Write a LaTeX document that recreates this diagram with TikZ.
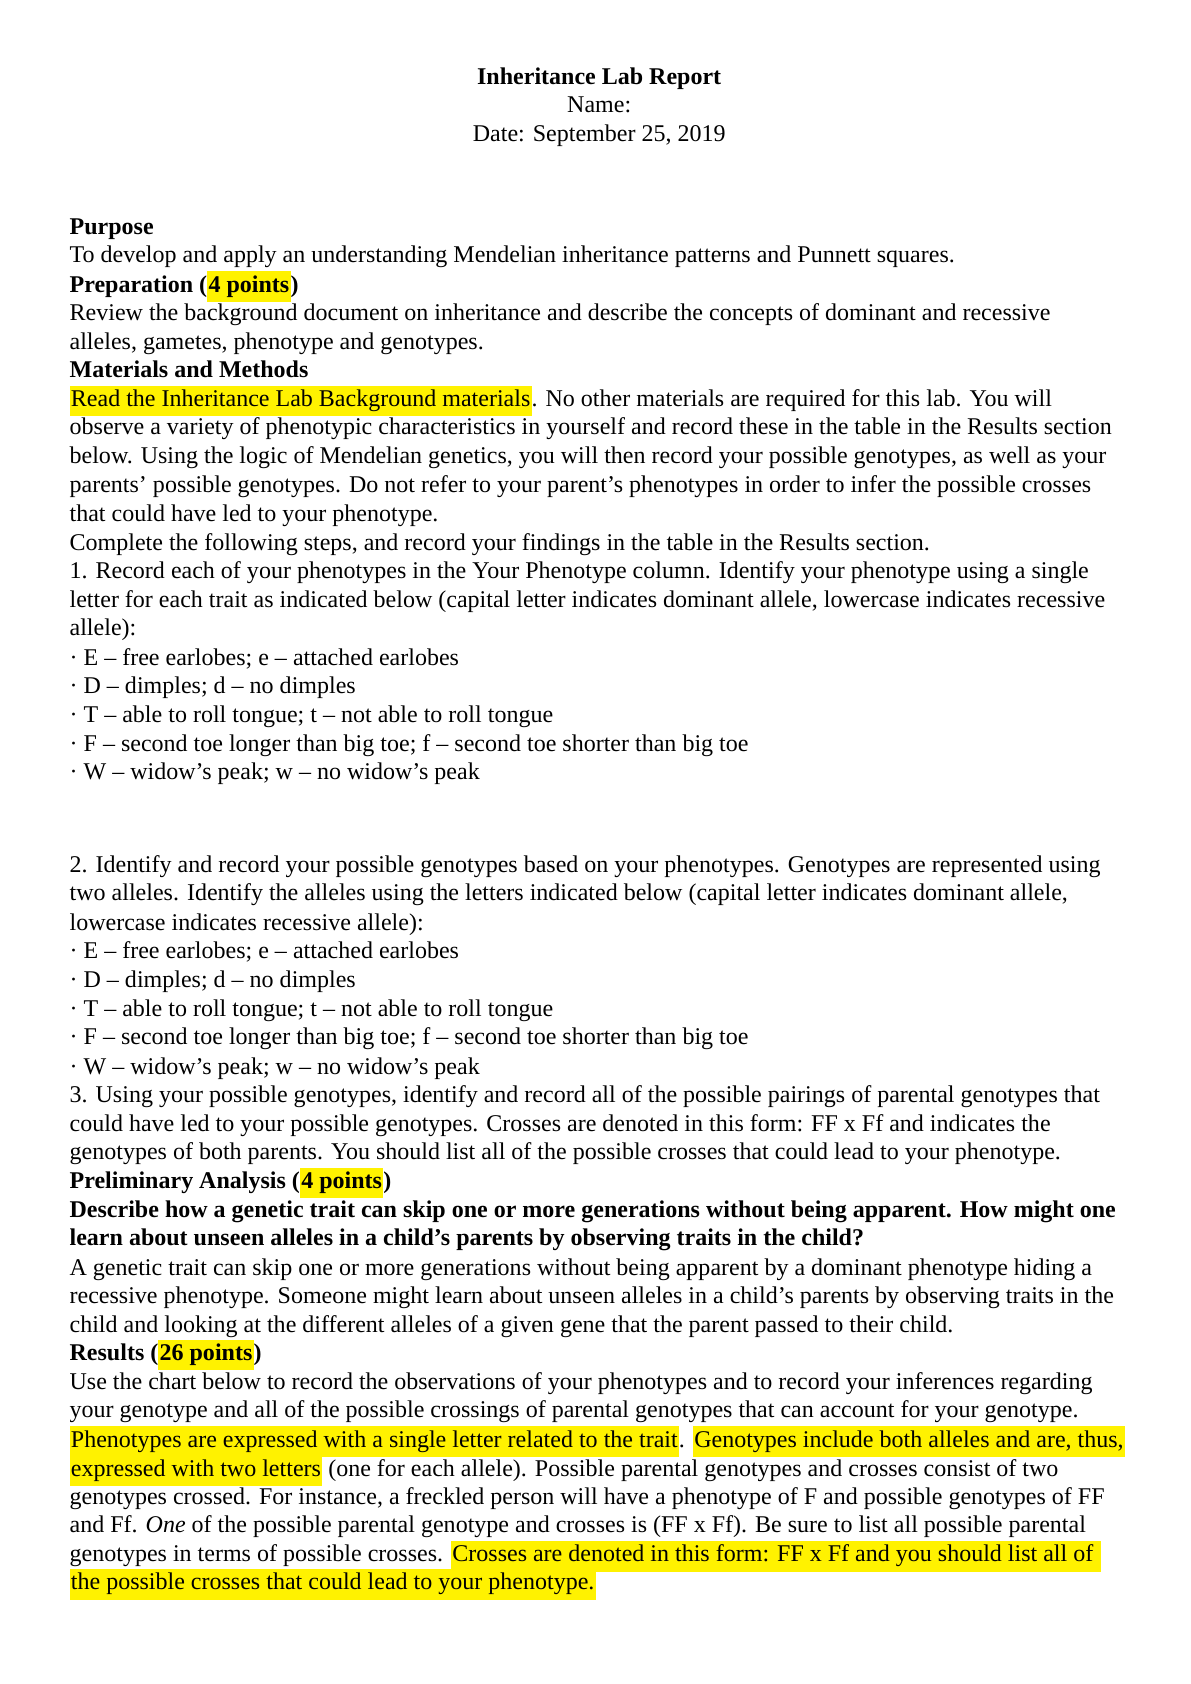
\documentclass[tikz,border=0pt]{standalone}
\usepackage{fontspec}
\setmainfont{Liberation Serif}
\newcommand\hl[1]{{\setlength\fboxsep{0.6pt}\colorbox{yellow}{\strut #1}}}
\tikzset{
  txt/.style={anchor=base west, inner sep=0, font=\fontsize{11.1}{13}\selectfont},
  head/.style={txt, font=\fontsize{11.1}{13}\selectfont\bfseries},
  ttl/.style={anchor=base, inner sep=0, font=\fontsize{11.1}{13}\selectfont}
}
\begin{document}
\begin{tikzpicture}[x=0.5pt,y=-0.5pt]
\useasboundingbox[fill=white] (0,0) rectangle (1101,1557);
% title block
\node[ttl] (title) at (554,78) {\bfseries Inheritance Lab Report};
\node[ttl] (name) at (554,104) {Name:};
\node[ttl] (date) at (554,131) {Date: September 25, 2019};
% purpose and preparation
\node[head] (purp) at (64,217) {Purpose};
\node[txt] (p1) at (64,243) {To develop and apply an understanding Mendelian inheritance patterns and Punnett squares.};
\node[head] (prep) at (64,270) {Preparation (\hl{4 points})};
\node[txt] (r1) at (64,296) {Review the background document on inheritance and describe the concepts of dominant and recessive};
\node[txt] (r2) at (64,323) {alleles, gametes, phenotype and genotypes.};
% materials
\node[head] (mat) at (64,349) {Materials and Methods};
\node[txt] (m1) at (64,376) {\hl{Read the Inheritance Lab Background materials}. No other materials are required for this lab. You will};
\node[txt] (m2) at (64,402) {observe a variety of phenotypic characteristics in yourself and record these in the table in the Results section};
\node[txt] (m3) at (64,429) {below. Using the logic of Mendelian genetics, you will then record your possible genotypes, as well as your};
\node[txt] (m4) at (64,455) {parents’ possible genotypes. Do not refer to your parent’s phenotypes in order to infer the possible crosses};
\node[txt] (m5) at (64,482) {that could have led to your phenotype.};
\node[txt] (m6) at (64,509) {Complete the following steps, and record your findings in the table in the Results section.};
\node[txt] (s1a) at (64,535) {1. Record each of your phenotypes in the Your Phenotype column. Identify your phenotype using a single};
\node[txt] (s1b) at (64,562) {letter for each trait as indicated below (capital letter indicates dominant allele, lowercase indicates recessive};
\node[txt] (s1c) at (64,588) {allele):};
\node[txt] (a1) at (64,615) {· E – free earlobes; e – attached earlobes};
\node[txt] (a2) at (64,641) {· D – dimples; d – no dimples};
\node[txt] (a3) at (64,668) {· T – able to roll tongue; t – not able to roll tongue};
\node[txt] (a4) at (64,695) {· F – second toe longer than big toe; f – second toe shorter than big toe};
\node[txt] (a5) at (64,721) {· W – widow’s peak; w – no widow’s peak};
\node[txt] (s2a) at (64,807) {2. Identify and record your possible genotypes based on your phenotypes. Genotypes are represented using};
\node[txt] (s2b) at (64,833) {two alleles. Identify the alleles using the letters indicated below (capital letter indicates dominant allele,};
\node[txt] (s2c) at (64,860) {lowercase indicates recessive allele):};
\node[txt] (b1) at (64,886) {· E – free earlobes; e – attached earlobes};
\node[txt] (b2) at (64,913) {· D – dimples; d – no dimples};
\node[txt] (b3) at (64,940) {· T – able to roll tongue; t – not able to roll tongue};
\node[txt] (b4) at (64,966) {· F – second toe longer than big toe; f – second toe shorter than big toe};
\node[txt] (b5) at (64,993) {· W – widow’s peak; w – no widow’s peak};
\node[txt] (s3a) at (64,1019) {3. Using your possible genotypes, identify and record all of the possible pairings of parental genotypes that};
\node[txt] (s3b) at (64,1046) {could have led to your possible genotypes. Crosses are denoted in this form: FF x Ff and indicates the};
\node[txt] (s3c) at (64,1072) {genotypes of both parents. You should list all of the possible crosses that could lead to your phenotype.};
% preliminary analysis
\node[head] (pre) at (64,1099) {Preliminary Analysis (\hl{4 points})};
\node[head] (q1) at (64,1126) {Describe how a genetic trait can skip one or more generations without being apparent. How might one};
\node[head] (q2) at (64,1152) {learn about unseen alleles in a child’s parents by observing traits in the child?};
\node[txt] (an1) at (64,1179) {A genetic trait can skip one or more generations without being apparent by a dominant phenotype hiding a};
\node[txt] (an2) at (64,1205) {recessive phenotype. Someone might learn about unseen alleles in a child’s parents by observing traits in the};
\node[txt] (an3) at (64,1232) {child and looking at the different alleles of a given gene that the parent passed to their child.};
% results
\node[head] (res) at (64,1258) {Results (\hl{26 points})};
\node[txt] (u1) at (64,1285) {Use the chart below to record the observations of your phenotypes and to record your inferences regarding};
\node[txt] (u2) at (64,1311) {your genotype and all of the possible crossings of parental genotypes that can account for your genotype.};
\node[txt] (u3) at (64,1338) {\hl{Phenotypes are expressed with a single letter related to the trait}. \hl{Genotypes include both alleles and are, thus,}};
\node[txt] (u4) at (64,1365) {\hl{expressed with two letters} (one for each allele). Possible parental genotypes and crosses consist of two};
\node[txt] (u5) at (64,1391) {genotypes crossed. For instance, a freckled person will have a phenotype of F and possible genotypes of FF};
\node[txt] (u6) at (64,1417) {and Ff. \textit{One} of the possible parental genotype and crosses is (FF x Ff). Be sure to list all possible parental};
\node[txt] (u7) at (64,1444) {genotypes in terms of possible crosses. \hl{Crosses are denoted in this form: FF x Ff and you should list all of }};
\node[txt] (u8) at (64,1470) {\hl{the possible crosses that could lead to your phenotype.}};
\end{tikzpicture}
\end{document}
